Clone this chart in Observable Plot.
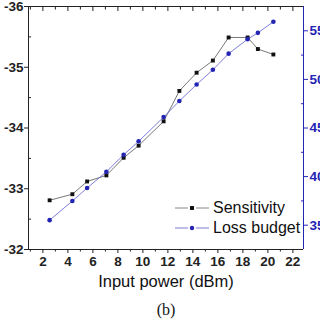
<!DOCTYPE html>
<html><head><meta charset="utf-8">
<script src="https://cdn.jsdelivr.net/npm/d3@7"></script>
<script src="https://cdn.jsdelivr.net/npm/@observablehq/plot@0.6"></script>
<style>
html,body{margin:0;padding:0;background:#fff;}
#wrap{position:relative;width:320px;height:320px;overflow:hidden;font-family:"Liberation Sans",Arial,sans-serif;}
#legend{position:absolute;left:174px;top:198px;font-size:16px;color:#111;line-height:20px;}
#legend div{display:flex;align-items:center;white-space:nowrap;}
#legend svg{margin-right:3px;}
</style></head><body><div id="wrap"></div>
<script>
// Data
const inputPower = [2.54, 4.36, 5.54, 7.08, 8.46, 9.66, 11.66, 12.92, 14.30, 15.6, 16.86, 18.38, 19.2, 20.44];
const sensitivity = [-32.81, -32.91, -33.12, -33.22, -33.51, -33.71, -34.11, -34.61, -34.91, -35.11, -35.49, -35.49, -35.30, -35.21];
const lossBudget = [35.52, 37.49, 38.83, 40.49, 42.25, 43.63, 46.12, 47.78, 49.48, 50.99, 52.65, 54.14, 54.79, 55.93];
const xTicks = [2, 4, 6, 8, 10, 12, 14, 16, 18, 20, 22];
const xMinorTicks = [1, 3, 5, 7, 9, 11, 13, 15, 17, 19, 21];
const leftTicks = [-36, -35, -34, -33, -32];
const leftMinorTicks = [-35.5, -34.5, -33.5, -32.5];
const rightTicks = [35, 40, 45, 50, 55];
const rightMinorTicks = [37.5, 42.5, 47.5, 52.5];
const seriesNames = ["Sensitivity", "Loss budget"];

const xDomain = [0.85, 22.85];
const leftDomain = [-32, -36];
const rightDomain = [32.5, 57.5];
const toLeft = r => leftDomain[0] + (r - rightDomain[0]) * (leftDomain[1] - leftDomain[0]) / (rightDomain[1] - rightDomain[0]);
const toRight = l => rightDomain[0] + (l - leftDomain[0]) * (rightDomain[1] - rightDomain[0]) / (leftDomain[1] - leftDomain[0]);

const data = inputPower.map((x, i) => ({x, s: sensitivity[i], l: toLeft(lossBudget[i])}));
const BLUE = "#2424b4";
const LINEBLUE = "#5c5cd0";
const DARK = "#222";

const chart = Plot.plot({
  width: 320, height: 320,
  marginLeft: 28, marginRight: 17, marginTop: 6, marginBottom: 71,
  style: {fontFamily: "'Liberation Sans', Arial, sans-serif", background: "#fff"},
  x: {domain: xDomain},
  y: {domain: leftDomain},
  marks: [
    // bottom axis
    Plot.axisX(xTicks, {anchor: "bottom", tickSize: 4, tickPadding: 3, fontSize: 13.5, fontWeight: "bold", fill: DARK, stroke: DARK, label: null}),
    Plot.axisX(xMinorTicks, {anchor: "bottom", tickSize: 2.5, text: null, stroke: DARK, label: null}),
    // top axis (ticks inward)
    Plot.axisX(xTicks, {anchor: "top", tickSize: -4, text: null, stroke: DARK, label: null}),
    Plot.axisX(xMinorTicks, {anchor: "top", tickSize: -2.5, text: null, stroke: DARK, label: null}),
    // left axis
    Plot.axisY(leftTicks, {anchor: "left", tickSize: 4, tickPadding: 1, fontSize: 13.5, fontWeight: "bold", fill: DARK, stroke: DARK, label: null, tickFormat: d => d}),
    Plot.axisY(leftMinorTicks, {anchor: "left", tickSize: -3, text: null, stroke: DARK, label: null}),
    // right axis (loss budget)
    Plot.axisY(rightTicks.map(toLeft), {anchor: "right", tickSize: 4, tickPadding: 2, fontSize: 13.5, fontWeight: "bold", fill: BLUE, stroke: BLUE, label: null, tickFormat: d => Math.round(toRight(d))}),
    Plot.axisY(rightMinorTicks.map(toLeft), {anchor: "right", tickSize: -3, text: null, stroke: BLUE, label: null}),
    // frame
    Plot.ruleY([leftDomain[1]], {stroke: DARK, strokeWidth: 1}),
    Plot.ruleY([leftDomain[0]], {stroke: DARK, strokeWidth: 1}),
    Plot.ruleX([xDomain[0]], {stroke: DARK, strokeWidth: 1}),
    Plot.ruleX([xDomain[1]], {stroke: BLUE, strokeWidth: 1}),
    // series
    Plot.line(data, {x: "x", y: "s", stroke: "#555", strokeWidth: 0.8}),
    Plot.line(data, {x: "x", y: "l", stroke: LINEBLUE, strokeWidth: 0.8}),
    Plot.dot(data, {x: "x", y: "s", symbol: "square", r: 2.2, fill: "#111", stroke: null}),
    Plot.dot(data, {x: "x", y: "l", r: 2.3, fill: BLUE, stroke: null}),
    // titles
    Plot.text(["Input power (dBm)"], {frameAnchor: "bottom", dy: 37, fontSize: 16.5, fill: "#111"}),
    Plot.text(["(b)"], {frameAnchor: "bottom", dy: 65, fontSize: 16, fill: "#111", fontFamily: "'Liberation Serif', 'Times New Roman', serif"})
  ]
});
const wrap = document.getElementById("wrap");
wrap.appendChild(chart);

const legend = document.createElement("div");
legend.id = "legend";
const legendStyles = [
  {line: "#888", mark: "rect", fill: "#111"},
  {line: "#7a7ad0", mark: "circle", fill: BLUE}
];
seriesNames.forEach((name, i) => {
  const st = legendStyles[i];
  const row = document.createElement("div");
  const markSvg = st.mark === "rect"
    ? `<rect x="16" y="8" width="4" height="4" fill="${st.fill}"/>`
    : `<circle cx="18" cy="10" r="2.2" fill="${st.fill}"/>`;
  row.innerHTML = `<svg width="36" height="20"><line x1="1" y1="10" x2="14" y2="10" stroke="${st.line}" stroke-width="1"/><line x1="22" y1="10" x2="35" y2="10" stroke="${st.line}" stroke-width="1"/>${markSvg}</svg><span>${name}</span>`;
  legend.appendChild(row);
});
wrap.appendChild(legend);
</script>
</body></html>
